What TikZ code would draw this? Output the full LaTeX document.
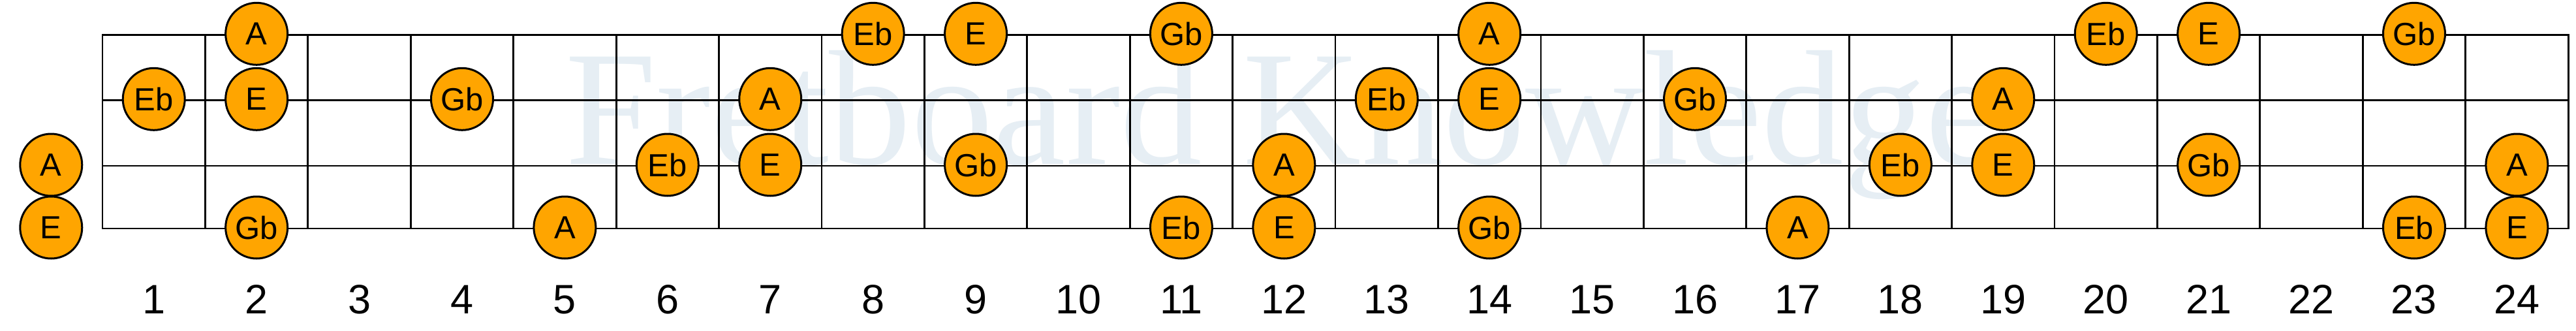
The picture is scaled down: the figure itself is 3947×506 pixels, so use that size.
\documentclass[tikz,border=0pt]{standalone}
\usepackage{fontspec}
\setmainfont{Liberation Sans}
\newfontfamily\wmfont{Liberation Serif}
\definecolor{noteorange}{HTML}{FFA500}
\definecolor{wmblue}{HTML}{E6EEF4}
\begin{document}
\begin{tikzpicture}[x=1pt,y=-1pt,
  note/.style={circle,draw=black,line width=3pt,fill=noteorange,minimum size=95pt,inner sep=0pt,font=\fontsize{49}{49}\selectfont},
  fretnum/.style={font=\fontsize{63}{63}\selectfont,anchor=base,inner sep=0pt},
  gridline/.style={line width=2.8pt,draw=black,line cap=rect},
  watermark/.style={text=wmblue,anchor=base west,inner sep=0pt,font=\wmfont\fontsize{251}{251}\selectfont}]
\useasboundingbox (0,0) rectangle (3947,506);
\fill[white] (0,0) rectangle (3947,506);
\node[watermark] (wm) at (866,251) {Fretboard Knowledge};
% strings
\foreach \y in {53.3,153.3,254,350}
  \draw[gridline] (157,\y) -- (3935,\y);
% frets
\foreach \f in {0,...,24}
  \draw[gridline] ({157+\f*157.42},53.3) -- ({157+\f*157.42},350);
% notes: y / fret / name
\foreach \y/\f/\n [count=\i] in {
  53.3/2/A, 53.3/8/Eb, 53.3/9/E, 53.3/11/Gb, 53.3/14/A, 53.3/20/Eb, 53.3/21/E, 53.3/23/Gb,
  153.3/1/Eb, 153.3/2/E, 153.3/4/Gb, 153.3/7/A, 153.3/13/Eb, 153.3/14/E, 153.3/16/Gb, 153.3/19/A,
  254/0/A, 254/6/Eb, 254/7/E, 254/9/Gb, 254/12/A, 254/18/Eb, 254/19/E, 254/21/Gb, 254/24/A,
  350/0/E, 350/2/Gb, 350/5/A, 350/11/Eb, 350/12/E, 350/14/Gb, 350/17/A, 350/23/Eb, 350/24/E}
  \node[note] (note\i) at ({157+(\f-0.5)*157.42},{\y-1.5}) {\n};
% fret numbers
\foreach \f in {1,...,24}
  \node[fretnum] (num\f) at ({157+(\f-0.5)*157.42},480) {\f};
\end{tikzpicture}
\end{document}
